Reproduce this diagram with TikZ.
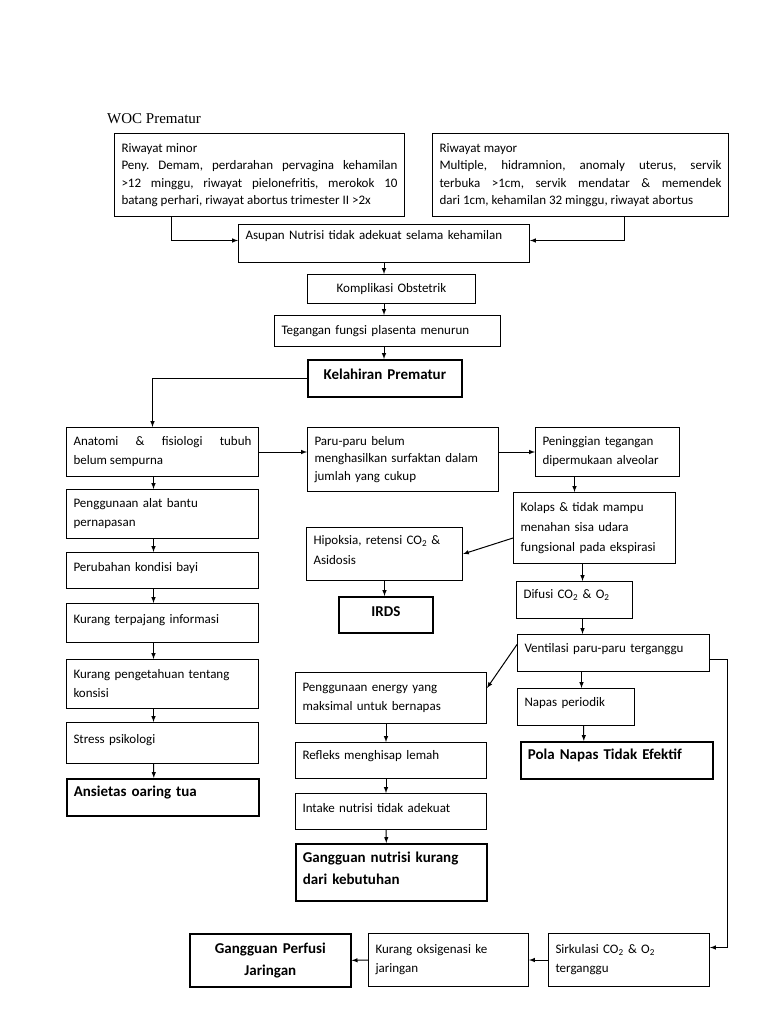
\documentclass[tikz,border=0pt]{standalone}
\usepackage{fontspec}
\setmainfont{Carlito}
\newfontfamily\judulfont{Liberation Serif}
\usetikzlibrary{arrows}
\frenchspacing

\tikzset{
  kotak/.style={draw, line width=1pt, inner xsep=7pt, inner ysep=3pt, anchor=north west,
    align=left, font=\fontsize{13}{19}\selectfont},
  tebal/.style={kotak, line width=1.7pt, font=\fontsize{15}{22}\selectfont\bfseries},
  panah/.style={->, >=latex, line width=1pt},
}

\begin{document}
\begin{tikzpicture}[x=1pt, y=-1pt]
	\useasboundingbox (0,0) rectangle (768,1024);
	\node[anchor=base west, inner sep=0pt, font=\judulfont\fontsize{15}{18}\selectfont] (judul) at (107,124) {WOC Prematur};

	% riwayat
	\node[kotak, align=justify, text width=276pt, minimum height=83pt, font=\fontsize{13}{17.5}\selectfont] (minor) at (114,133)
		{Riwayat minor\\ Peny. Demam, perdarahan pervagina kehamilan\linebreak >12 minggu, riwayat pielonefritis, merokok 10\linebreak batang perhari, riwayat abortus trimester II >2x};
	\node[kotak, align=justify, text width=282pt, minimum height=83pt, font=\fontsize{13}{17.5}\selectfont] (mayor) at (432,133)
		{Riwayat mayor\\ Multiple, hidramnion, anomaly uterus, servik\linebreak terbuka >1cm, servik mendatar \& memendek\linebreak dari 1cm, kehamilan 32 minggu, riwayat abortus};

	% jalur tengah
	\node[kotak, text width=277pt, minimum height=38pt, text depth=17pt] (asupan) at (238,224) {Asupan Nutrisi tidak adekuat selama kehamilan};
	\node[kotak, align=center, text width=154pt, minimum height=29pt] (komplikasi) at (307,274) {Komplikasi Obstetrik};
	\node[kotak, text width=212pt, minimum height=31pt] (tegangan) at (274,315) {Tegangan fungsi plasenta menurun};
	\node[tebal, align=center, text width=140pt, minimum height=37pt, text depth=9pt] (kelahiran) at (307,359) {Kelahiran Prematur};

	% kolom kiri
	\node[kotak, align=justify, text width=178pt, minimum height=49pt] (anatomi) at (66,427) {Anatomi \& fisiologi tubuh\linebreak belum sempurna};
	\node[kotak, text width=178pt, minimum height=49pt] (alat) at (66,489) {Penggunaan alat bantu\\ pernapasan};
	\node[kotak, text width=178pt, minimum height=36pt, text depth=8pt] (perubahan) at (66,552) {Perubahan kondisi bayi};
	\node[kotak, text width=178pt, minimum height=39pt, text depth=7pt] (terpajang) at (66,603) {Kurang terpajang informasi};
	\node[kotak, text width=178pt, minimum height=49pt] (pengetahuan) at (66,659) {Kurang pengetahuan tentang\\ konsisi};
	\node[kotak, text width=178pt, minimum height=41pt, text depth=9pt] (stress) at (66,722) {Stress psikologi};
	\node[tebal, text width=178pt, minimum height=37pt, text depth=13pt] (ansietas) at (66,778) {Ansietas oaring tua};

	% paru-paru
	\node[kotak, text width=177pt, minimum height=64pt, font=\fontsize{13}{17.5}\selectfont] (paru) at (307,427) {Paru-paru belum\\ menghasilkan surfaktan dalam\\ jumlah yang cukup};
	\node[kotak, text width=130pt, minimum height=49pt] (peninggian) at (535,427) {Peninggian tegangan\\ dipermukaan alveolar};
	\node[kotak, text width=148pt, minimum height=71pt, font=\fontsize{13}{20}\selectfont] (kolaps) at (513,492) {Kolaps \& tidak mampu\\ menahan sisa udara\\ fungsional pada ekspirasi};
	\node[kotak, text width=142pt, minimum height=53pt, text depth=28pt, font=\fontsize{13}{20}\selectfont] (hipoksia) at (306,527) {Hipoksia, retensi CO\textsubscript{2} \&\\ Asidosis};
	\node[tebal, align=center, text width=80pt, minimum height=36pt, text depth=6pt] (irds) at (338,596) {IRDS};
	\node[kotak, text width=102pt, minimum height=37pt, text depth=12pt] (difusi) at (516,581) {Difusi CO\textsubscript{2} \& O\textsubscript{2}};
	\node[kotak, text width=178pt, minimum height=37pt, text depth=11pt] (ventilasi) at (517,634) {Ventilasi paru-paru terganggu};
	\node[kotak, text width=177pt, minimum height=51pt] (energy) at (295,672) {Penggunaan energy yang\\ maksimal untuk bernapas};
	\node[kotak, text width=103pt, minimum height=37pt, text depth=11pt] (napas) at (517,688) {Napas periodik};
	\node[kotak, text width=177pt, minimum height=36pt, text depth=11pt] (refleks) at (295,742) {Refleks menghisap lemah};
	\node[tebal, text width=178pt, minimum height=37pt, text depth=11.5pt] (pola) at (520,741) {Pola Napas Tidak Efektif};
	\node[kotak, text width=177pt, minimum height=36pt, text depth=8pt] (intake) at (295,793) {Intake nutrisi tidak adekuat};
	\node[tebal, text width=177pt, minimum height=57pt, text depth=30pt] (gnutrisi) at (295,843) {Gangguan nutrisi kurang\\ dari kebutuhan};

	% baris bawah
	\node[tebal, align=center, text width=147pt, minimum height=53pt] (perfusi) at (189,933) {Gangguan Perfusi\\ Jaringan};
	\node[kotak, text width=146pt, minimum height=53pt] (oksigenasi) at (368,933) {Kurang oksigenasi ke\\ jaringan};
	\node[kotak, text width=147pt, minimum height=53pt] (sirkulasi) at (548,933) {Sirkulasi CO\textsubscript{2} \& O\textsubscript{2}\\ terganggu};
	\coordinate (kanan) at (727,800);

	% panah
	\draw[panah] ([xshift=-88pt]minor.south) |- ([yshift=3pt]asupan.west);
	\draw[panah] ([xshift=44pt]mayor.south) |- ([yshift=3pt]asupan.east);
	\draw[panah] (asupan.south) -- (asupan.south |- komplikasi.north);
	\draw[panah] (asupan.south |- komplikasi.south) -- (asupan.south |- tegangan.north);
	\draw[panah] (asupan.south |- tegangan.south) -- (asupan.south |- kelahiran.north);
	\draw[panah] (kelahiran.west) -| ([xshift=-10pt]anatomi.north);
	\foreach \a/\b in {anatomi/alat, alat/perubahan, perubahan/terpajang, terpajang/pengetahuan, pengetahuan/stress, stress/ansietas}
		\draw[panah] ([xshift=-9pt]\a.south) -- ([xshift=-9pt]\b.north);
	\draw[panah] (anatomi.east) -- (anatomi.east -| paru.west);
	\draw[panah] (paru.east |- peninggian.west) -- (peninggian.west);
	\draw[panah] ([xshift=-33pt]peninggian.south) -- ([xshift=-20pt]kolaps.north);
	\draw[panah] ([yshift=-10pt]kolaps.west) -- (hipoksia.east);
	\draw[panah] (hipoksia.south) -- (hipoksia.south |- irds.north);
	\draw[panah] ([xshift=-12pt]kolaps.south) -- ([xshift=8pt]difusi.north);
	\draw[panah] ([xshift=8pt]difusi.south) -- ([xshift=-31pt]ventilasi.north);
	\draw[panah] ([yshift=8.5pt]ventilasi.west) -- ([yshift=10pt]energy.east);
	\draw[panah] ([xshift=-32pt]ventilasi.south) -- ([xshift=5.5pt]napas.north);
	\draw[panah] ([xshift=7.5pt]napas.south) -- ([xshift=-33pt]pola.north);
	\foreach \a/\b in {energy/refleks, refleks/intake, intake/gnutrisi}
		\draw[panah] ([xshift=-5pt]\a.south) -- ([xshift=-5pt]\b.north);
	\draw[panah] ([yshift=-6.5pt]ventilasi.east) -| (kanan) |- ([yshift=12.5pt]sirkulasi.east);
	\draw[panah] (sirkulasi.west) -- (oksigenasi.east);
	\draw[panah] (oksigenasi.west) -- (perfusi.east);
\end{tikzpicture}
\end{document}
